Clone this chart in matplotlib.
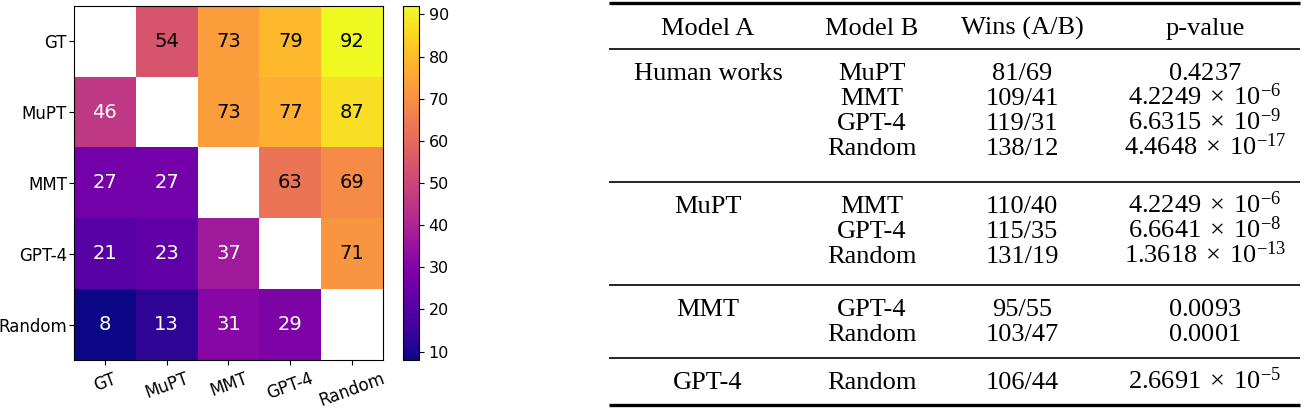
import numpy as np
import matplotlib
matplotlib.use("Agg")
import matplotlib.pyplot as plt

# heatmap data (row model wins against column model, %)
models = ["GT", "MuPT", "MMT", "GPT-4", "Random"]
win_rates = [
    [None, 54, 73, 79, 92],
    [46, None, 73, 77, 87],
    [27, 27, None, 63, 69],
    [21, 23, 37, None, 71],
    [8, 13, 31, 29, None],
]

# significance table
table_header = ["Model A", "Model B", "Wins (A/B)", "p-value"]
model_a = ["Human works", "MuPT", "MMT", "GPT-4"]
model_b = [["MuPT", "MMT", "GPT-4", "Random"],
           ["MMT", "GPT-4", "Random"],
           ["GPT-4", "Random"],
           ["Random"]]
wins = [["81/69", "109/41", "119/31", "138/12"],
        ["110/40", "115/35", "131/19"],
        ["95/55", "103/47"],
        ["106/44"]]
p_values = [[r"0.4237", r"4.2249\;\times\;10^{-6}", r"6.6315\;\times\;10^{-9}", r"4.4648\;\times\;10^{-17}"],
            [r"4.2249\;\times\;10^{-6}", r"6.6641\;\times\;10^{-8}", r"1.3618\;\times\;10^{-13}"],
            [r"0.0093", r"0.0001"],
            [r"2.6691\;\times\;10^{-5}"]]

plt.rcParams["mathtext.fontset"] = "custom"
plt.rcParams["mathtext.rm"] = "Liberation Serif"
plt.rcParams["mathtext.it"] = "Liberation Serif:italic"

W, H = 1304, 408
fig = plt.figure(figsize=(W / 100, H / 100), dpi=100)

# ---- heatmap ----
data = np.array([[np.nan if v is None else v for v in row] for row in win_rates], dtype=float)
ax = fig.add_axes([74 / W, 48 / H, 309 / W, 354 / H])
cmap = plt.get_cmap("plasma").copy()
cmap.set_bad("white")
im = ax.imshow(np.ma.masked_invalid(data), cmap=cmap, aspect="auto")
for i in range(len(models)):
    for j in range(len(models)):
        v = data[i, j]
        if np.isnan(v):
            continue
        ax.text(j, i, f"{int(v)}", ha="center", va="center", fontsize=14,
                color="white" if v < 50 else "black")
ax.set_xticks(range(len(models)))
ax.set_yticks(range(len(models)))
ax.set_xticklabels(models, rotation=20, fontsize=12)
ax.set_yticklabels(models, fontsize=12)
ax.tick_params(axis="y", pad=1.5)

cax = fig.add_axes([403 / W, 48 / H, 16 / W, 354 / H])
cb = fig.colorbar(im, cax=cax)
cb.set_ticks([10, 20, 30, 40, 50, 60, 70, 80, 90])
cax.tick_params(labelsize=11.5)

# ---- table ----
tx = fig.add_axes([0, 0, 1, 1])
tx.set_xlim(0, W)
tx.set_ylim(H, 0)
tx.axis("off")

x0, x1 = 609, 1300
col_x = [708, 872, 1022, 1205]
row_gap = 25
first_row = 23
rules = [3, 49, 182, 285, 358, 405]
fs = 19
base_shift = 8  # baseline below visual row centre

def rule(y, lw):
    tx.plot([x0, x1], [y, y], color="black", lw=lw, solid_capstyle="butt")

rule(rules[0], 2.4)
for y in rules[1:-1]:
    rule(y, 1.2)
rule(rules[-1], 2.4)

def cell(x, y, s):
    tx.text(x, y + base_shift, s, ha="center", va="baseline", fontsize=fs,
            family="Liberation Serif")

hy = 27
for x, t in zip(col_x, table_header):
    cell(x, hy, t)

for g in range(len(model_a)):
    top = rules[g + 1]
    n = len(model_b[g])
    ys = [top + first_row + k * row_gap for k in range(n)]
    cell(col_x[0], ys[0], model_a[g])
    for k in range(n):
        cell(col_x[1], ys[k], model_b[g][k])
        cell(col_x[2], ys[k], wins[g][k])
        cell(col_x[3], ys[k], "$" + p_values[g][k] + "$")

fig.savefig("out.png", dpi=100)
